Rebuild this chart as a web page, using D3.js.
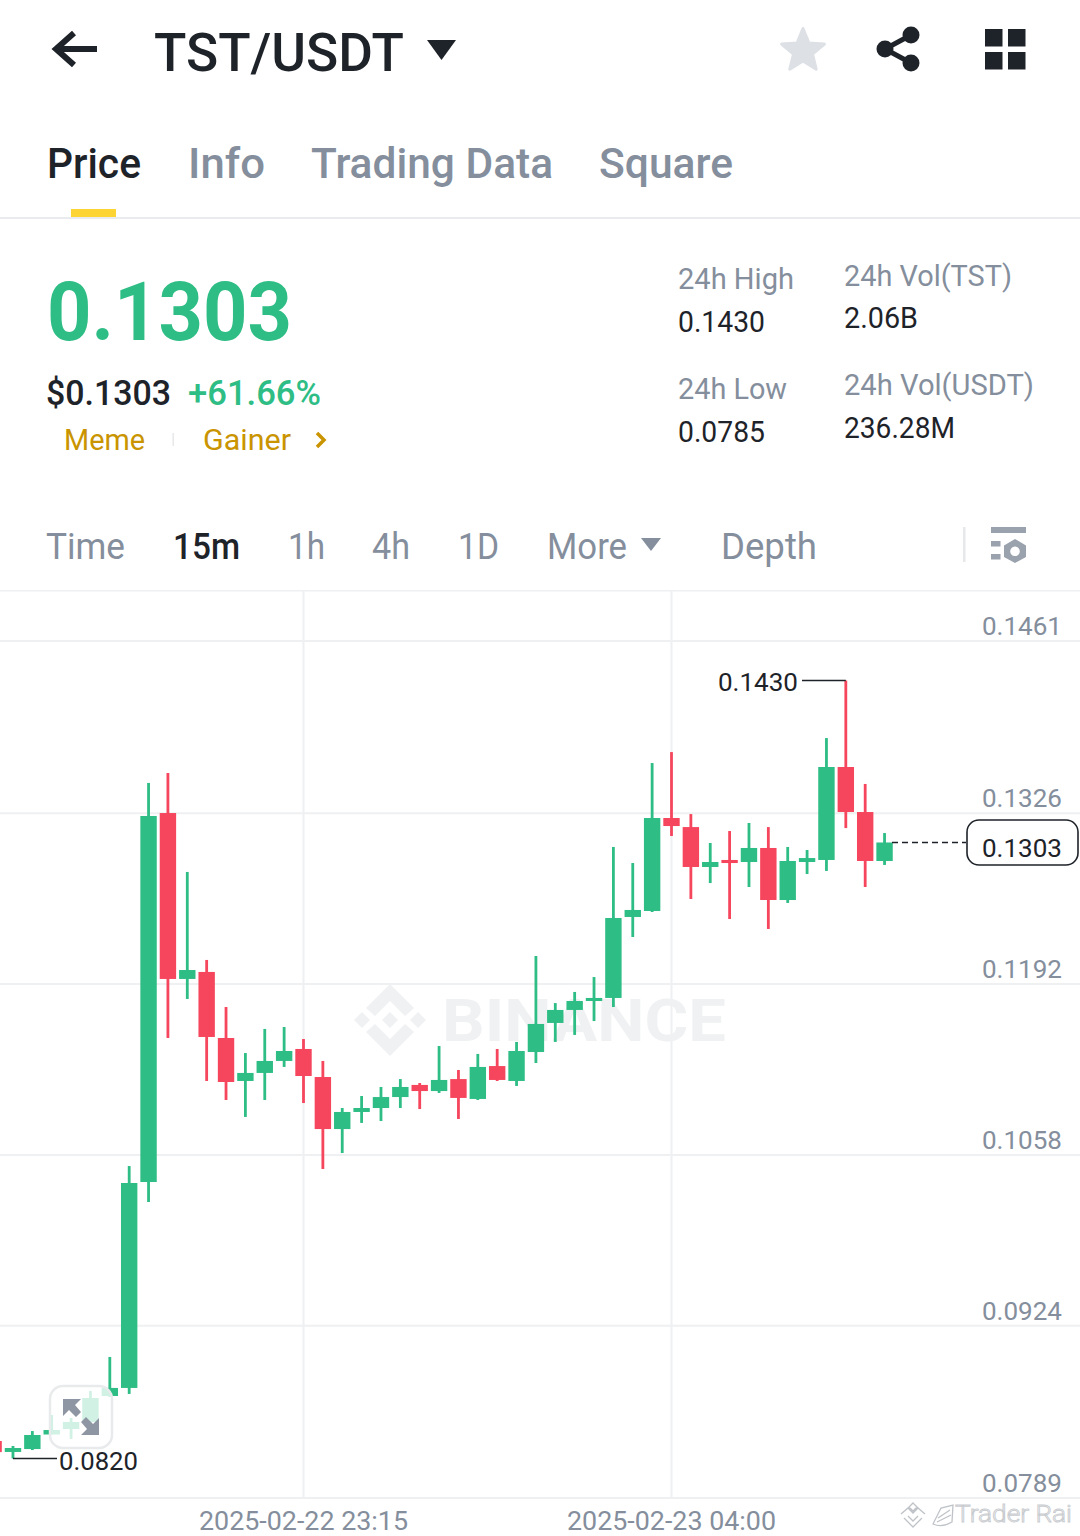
<!DOCTYPE html>
<html>
<head>
<meta charset="utf-8">
<title>TST/USDT</title>
<script src="https://cdn.jsdelivr.net/npm/d3@7"></script>
<style>
    html, body { margin: 0; padding: 0; background: #fff; }
    svg { display: block; }
    text { font-family: Roboto, "Noto Sans", sans-serif; }
</style>
</head>
<body>
<div id="chart"></div>
<script>
/******************************************************
 * Data (15m candles)
*******************************************************/
const opens = [
    0.08337, 0.08251, 0.08274, 0.08388, 0.08431, 0.08486, 0.08690, 0.08753,
    0.10368, 0.13261, 0.11960, 0.12015, 0.11497, 0.11160, 0.11223, 0.11317,
    0.11411, 0.11191, 0.10783, 0.10917, 0.10948, 0.11034, 0.11129, 0.11081,
    0.11175, 0.11019, 0.11277, 0.11160, 0.11387, 0.11615, 0.11717, 0.11787,
    0.11811, 0.12446, 0.12493, 0.13222, 0.13151, 0.12838, 0.12893, 0.12877,
    0.12987, 0.12579, 0.12877, 0.12893, 0.13622, 0.13269, 0.12885
];
const highs = [
    0.08337, 0.08298, 0.08415, 0.08541, 0.08517, 0.08729, 0.08996, 0.10493,
    0.13497, 0.13575, 0.12799, 0.12109, 0.11740, 0.11379, 0.11568, 0.11583,
    0.11489, 0.11317, 0.10948, 0.11042, 0.11113, 0.11175, 0.11144, 0.11434,
    0.11246, 0.11372, 0.11411, 0.11466, 0.12140, 0.11771, 0.11858, 0.11975,
    0.12995, 0.12869, 0.13653, 0.13739, 0.13253, 0.13026, 0.13120, 0.13183,
    0.13151, 0.12995, 0.12971, 0.13849, 0.14300, 0.13489, 0.13104
];
const lows = [
    0.08250, 0.08200, 0.08266, 0.08388, 0.08353, 0.08478, 0.08682, 0.08706,
    0.10211, 0.11497, 0.11803, 0.11160, 0.11011, 0.10878, 0.11011, 0.11270,
    0.10987, 0.10470, 0.10595, 0.10831, 0.10846, 0.10948, 0.10940, 0.11066,
    0.10862, 0.11011, 0.11160, 0.11121, 0.11301, 0.11466, 0.11521, 0.11630,
    0.11740, 0.12289, 0.12485, 0.13081, 0.12587, 0.12712, 0.12430, 0.12681,
    0.12352, 0.12556, 0.12783, 0.12807, 0.13143, 0.12681, 0.12854
];
const closes = [
    0.08250, 0.08282, 0.08384, 0.08423, 0.08486, 0.08674, 0.08753, 0.10360,
    0.13238, 0.11960, 0.12030, 0.11505, 0.11152, 0.11223, 0.11317, 0.11395,
    0.11199, 0.10783, 0.10917, 0.10948, 0.11034, 0.11113, 0.11081, 0.11168,
    0.11027, 0.11270, 0.11168, 0.11395, 0.11607, 0.11717, 0.11787, 0.11811,
    0.12438, 0.12501, 0.13222, 0.13159, 0.12838, 0.12877, 0.12869, 0.12987,
    0.12579, 0.12885, 0.12908, 0.13622, 0.13269, 0.12885, 0.13030
];
const firstCandle = new Date(2025, 1, 22, 19, 15);
const priceTicks = [0.1461, 0.1326, 0.1192, 0.1058, 0.0924, 0.0789];
const timeTicks = [new Date(2025, 1, 22, 23, 15), new Date(2025, 1, 23, 4, 0)];
const lastPrice = 0.1303;
const chartHigh = 0.1430;
const chartLow = 0.0820;

// [text, x, width on screen]
const tabs = [["Price", 47, 94], ["Info", 188, 77], ["Trading Data", 311, 242], ["Square", 599, 134]];
const intervals = [["Time", 46, 79], ["15m", 173, 67], ["1h", 288, 37], ["4h", 372, 38], ["1D", 458, 41], ["More", 547, 80], ["Depth", 721, 96]];
const stats = [
    ["24h High", 116, "0.1430", 87, 678, 289, 332],
    ["24h Low", 109, "0.0785", 87, 678, 399, 442],
    ["24h Vol(TST)", 168, "2.06B", 74, 844, 286, 328],
    ["24h Vol(USDT)", 190, "236.28M", 111, 844, 395, 438]
];

//! CONSTANTS
const WIDTH = 1080;
const HEIGHT = 1536;
const CHART_TOP = 591;
const CHART_BOTTOM = 1498;
const BODY_WIDTH = 16.4;
const WICK_WIDTH = 2.8;
const GREEN = "#2EBD85";
const RED = "#F6465D";
const DARK = "#1E2329";
const GRAY = "#848E9C";
const LINE = "#EEF0F2";
const GOLD = "#C99400";

const svg = d3.select("#chart").append("svg")
    .attr("width", WIDTH)
    .attr("height", HEIGHT)
    .attr("viewBox", `0 0 ${WIDTH} ${HEIGHT}`);

const x = d3.scaleTime().domain(timeTicks).range([303.5, 671.5]);
const y = d3.scaleLinear().domain([priceTicks[5], priceTicks[0]]).range([CHART_BOTTOM, 641]);

const candles = opens.map((o, i) => ({
    time: d3.timeMinute.offset(firstCandle, i * 15),
    open: o, high: highs[i], low: lows[i], close: closes[i]
}));

// the app font has narrow digits, so squeeze Roboto to the measured width
function label(parent, txt, px, py, size, fill, weight, width) {
    const t = parent.append("text")
        .attr("x", px).attr("y", py)
        .attr("font-size", size)
        .attr("font-weight", weight || 400)
        .attr("fill", fill)
        .text(txt);
    if (width) t.attr("textLength", width).attr("lengthAdjust", "spacingAndGlyphs");
    return t;
}

/******************************************************
 * Header
*******************************************************/
function drawHeader() {
    const g = svg.append("g");

    // back arrow
    g.append("path")
        .attr("d", "M97 49H57M74 33L56 49L74 65")
        .attr("fill", "none").attr("stroke", DARK)
        .attr("stroke-width", 6);

    label(g, "TST/USDT", 154, 71, 54, DARK, 500, 250);
    g.append("path").attr("d", "M427 40H456L441.5 60Z").attr("fill", DARK);

    // star
    const star = d3.range(10).map(i => {
        const r = i % 2 ? 10 : 22.5;
        const a = -Math.PI / 2 + i * Math.PI / 5;
        return [803 + r * Math.cos(a), 51 + r * Math.sin(a)];
    });
    g.append("path")
        .attr("d", d3.line()(star) + "Z")
        .attr("fill", "#DDE0E5").attr("stroke", "#DDE0E5")
        .attr("stroke-width", 3).attr("stroke-linejoin", "round");

    // share
    g.append("path")
        .attr("d", "M911 35L885 49L911 63")
        .attr("fill", "none").attr("stroke", DARK).attr("stroke-width", 5);
    g.selectAll("circle.share")
        .data([[911, 35], [885, 49], [911, 63]])
        .enter().append("circle")
        .attr("cx", d => d[0]).attr("cy", d => d[1]).attr("r", 8.5).attr("fill", DARK);

    // grid menu
    g.selectAll("rect.menu")
        .data([[985, 29], [1008, 29], [985, 52], [1008, 52]])
        .enter().append("rect")
        .attr("x", d => d[0]).attr("y", d => d[1])
        .attr("width", 17.5).attr("height", 17.5).attr("fill", DARK);

    // tabs
    tabs.forEach((t, i) => label(g, t[0], t[1], 178, 42, i === 0 ? DARK : GRAY, 500, t[2]));
    g.append("rect").attr("x", 71).attr("y", 209).attr("width", 45).attr("height", 8).attr("fill", "#FCD535");
    g.append("rect").attr("x", 0).attr("y", 217).attr("width", WIDTH).attr("height", 2).attr("fill", "#E9EBEE");

    // price block
    label(g, "0.1303", 47, 340, 82, GREEN, 700, 245);
    label(g, "$0.1303", 46, 405, 35, DARK, 500, 125);
    label(g, "+61.66%", 188, 405, 35, GREEN, 500, 133);
    label(g, "Meme", 64, 450, 30, GOLD, 400, 81);
    g.append("rect").attr("x", 172.5).attr("y", 433).attr("width", 1.5).attr("height", 13).attr("fill", "#E6E8EA");
    label(g, "Gainer", 203, 450, 30, GOLD, 400, 88);
    g.append("path")
        .attr("d", "M317 433L324 440L317 447")
        .attr("fill", "none").attr("stroke", GOLD).attr("stroke-width", 3.5);

    // 24h stats
    stats.forEach(s => {
        label(g, s[0], s[4], s[5], 30, GRAY, 400, s[1]);
        label(g, s[2], s[4], s[6], 30, DARK, 400, s[3]);
    });

    // interval row
    intervals.forEach(t => {
        const active = t[0] === "15m";
        label(g, t[0], t[1], 559, 36, active ? DARK : GRAY, active ? 500 : 400, t[2]);
    });
    g.append("path").attr("d", "M641 538H661L651 551Z").attr("fill", GRAY);
    g.append("rect").attr("x", 963).attr("y", 527).attr("width", 2.5).attr("height", 35).attr("fill", "#E6E8EA");

    // chart settings icon
    const ic = g.append("g").attr("fill", "#9AA2AE");
    ic.append("rect").attr("x", 991).attr("y", 527).attr("width", 35).attr("height", 6);
    ic.append("rect").attr("x", 991).attr("y", 541).attr("width", 9.5).attr("height", 5.5);
    ic.append("rect").attr("x", 991).attr("y", 554).attr("width", 9.5).attr("height", 5.5);
    ic.append("path")
        .attr("fill-rule", "evenodd")
        .attr("d", "M1015 539L1026 545.5V557L1015 563L1004 557V545.5ZM1015 546.5a4.8 4.8 0 1 0 0.01 0Z");

    g.append("rect").attr("x", 0).attr("y", 590).attr("width", WIDTH).attr("height", 1.5).attr("fill", LINE);
}

/******************************************************
 * Binance watermark + grid, drawn under the candles
*******************************************************/
function drawBackground() {
    const g = svg.append("g");

    // price axis carries the horizontal grid lines
    const yAxis = g.append("g")
        .call(d3.axisRight(y).tickValues(priceTicks).tickFormat(d3.format(".4f")).tickSize(WIDTH).offset(0));
    yAxis.select(".domain").remove();
    yAxis.selectAll("line").attr("stroke", LINE).attr("stroke-width", 2);
    yAxis.selectAll("text")
        .attr("x", 982).attr("dy", -6)
        .attr("text-anchor", "start")
        .attr("font-size", 26.5)
        .attr("textLength", 80)
        .attr("lengthAdjust", "spacingAndGlyphs")
        .attr("font-family", "Roboto")
        .attr("fill", GRAY);

    // time axis with the vertical grid lines
    const xAxis = g.append("g")
        .attr("transform", `translate(0,${CHART_BOTTOM})`)
        .call(d3.axisBottom(x).tickValues(timeTicks)
            .tickFormat(d3.timeFormat("%Y-%m-%d %H:%M"))
            .tickSize(CHART_TOP - CHART_BOTTOM)
            .offset(0));
    xAxis.select(".domain").remove();
    xAxis.selectAll("line").attr("stroke", LINE).attr("stroke-width", 2);
    xAxis.selectAll("text")
        .attr("y", 31.5).attr("dy", 0)
        .attr("font-size", 26)
        .attr("textLength", 209)
        .attr("lengthAdjust", "spacingAndGlyphs")
        .attr("font-family", "Roboto")
        .attr("fill", GRAY);

    // watermark
    const wm = g.append("g").attr("fill", "#EFF1F2");
    label(wm, "BINANCE", 442, 1041, 60, "#EFF1F2", 700, 284);
    const c = [390, 1020];
    const chevron = s => `M${c[0]} ${c[1] + s * 36}L${c[0] + 24} ${c[1] + s * 12}L${c[0] + 15} ${c[1] + s * 4}`
        + `L${c[0]} ${c[1] + s * 19}L${c[0] - 15} ${c[1] + s * 4}L${c[0] - 24} ${c[1] + s * 12}Z`;
    wm.append("path").attr("d", chevron(1));
    wm.append("path").attr("d", chevron(-1));
    wm.selectAll("path.dot")
        .data([[0, 0], [-28, 0], [28, 0]])
        .enter().append("path")
        .attr("d", d => `M${c[0] + d[0]} ${c[1] - 8}l8 8l-8 8l-8 -8Z`);
}

/******************************************************
 * Candles
*******************************************************/
function drawCandles() {
    const g = svg.append("g");
    const color = d => d.close >= d.open ? GREEN : RED;

    g.selectAll("rect.wick")
        .data(candles)
        .enter().append("rect")
        .attr("class", "wick")
        .attr("x", d => x(d.time) - WICK_WIDTH / 2)
        .attr("width", WICK_WIDTH)
        .attr("y", d => y(d.high))
        .attr("height", d => y(d.low) - y(d.high))
        .attr("fill", color);

    g.selectAll("rect.body")
        .data(candles)
        .enter().append("rect")
        .attr("class", "body")
        .attr("x", d => x(d.time) - BODY_WIDTH / 2)
        .attr("width", BODY_WIDTH)
        .attr("y", d => y(Math.max(d.open, d.close)))
        .attr("height", d => Math.abs(y(d.open) - y(d.close)))
        .attr("fill", color);
}

/******************************************************
 * High / low callouts, last price tag, overlays
*******************************************************/
function drawOverlays() {
    const g = svg.append("g");
    const hi = candles.find(d => d.high === d3.max(highs));
    const lo = candles.find(d => d.low === d3.min(lows));

    g.append("line")
        .attr("x1", 802).attr("x2", x(hi.time))
        .attr("y1", y(chartHigh)).attr("y2", y(chartHigh))
        .attr("stroke", DARK).attr("stroke-width", 1.6);
    label(g, d3.format(".4f")(chartHigh), 718, 691, 26.5, DARK, 400, 80);

    g.append("line")
        .attr("x1", x(lo.time)).attr("x2", 57)
        .attr("y1", y(chartLow)).attr("y2", y(chartLow))
        .attr("stroke", DARK).attr("stroke-width", 1.6);
    label(g, d3.format(".4f")(chartLow), 59, 1470, 26.5, DARK, 400, 79);

    // last price
    g.append("line")
        .attr("x1", 892).attr("x2", 966)
        .attr("y1", y(lastPrice)).attr("y2", y(lastPrice))
        .attr("stroke", DARK).attr("stroke-width", 1.4)
        .attr("stroke-dasharray", "6 4");
    g.append("rect")
        .attr("x", 967).attr("y", 820).attr("width", 111).attr("height", 45).attr("rx", 12)
        .attr("fill", "#fff").attr("stroke", DARK).attr("stroke-width", 1.6);
    label(g, d3.format(".4f")(lastPrice), 982, 857, 26.5, DARK, 400, 80);

    // expand button over the chart
    g.append("rect")
        .attr("x", 50).attr("y", 1386).attr("width", 62).attr("height", 62).attr("rx", 13)
        .attr("fill", "#fff").attr("fill-opacity", 0.78)
        .attr("stroke", "#E8EAEC").attr("stroke-width", 2.5);
    g.append("path")
        .attr("fill", "#8F96A3")
        .attr("d", "M63 1399H81L75 1405L81 1412L76 1417L69 1410L63 1416Z"
            + "M99 1435H81L87 1429L81 1422L86 1417L93 1424L99 1418Z");

    // screenshot watermark at the corner
    const wm = g.append("g");
    wm.append("text")
        .attr("x", 955).attr("y", 1522)
        .attr("font-size", 24)
        .attr("font-weight", 300)
        .attr("textLength", 117)
        .attr("lengthAdjust", "spacingAndGlyphs")
        .attr("fill", "#fff")
        .attr("stroke", "#C9CCD0").attr("stroke-width", 0.9)
        .text("Trader Rai");
    wm.append("path")
        .attr("fill", "none").attr("stroke", "#BFC3C8").attr("stroke-width", 1.3)
        .attr("d", "M901 1514L908 1508L913 1513L918 1508L925 1514M904 1518L913 1527L922 1518M908 1516L913 1521L918 1516M913 1503L917 1507L913 1511L909 1507Z"
            + "M933 1524L941 1508L953 1505L952 1522Q942 1528 933 1524ZM938 1518L950 1510M937 1522L951 1515");
}

drawBackground();
drawCandles();
drawHeader();
drawOverlays();
</script>
</body>
</html>
